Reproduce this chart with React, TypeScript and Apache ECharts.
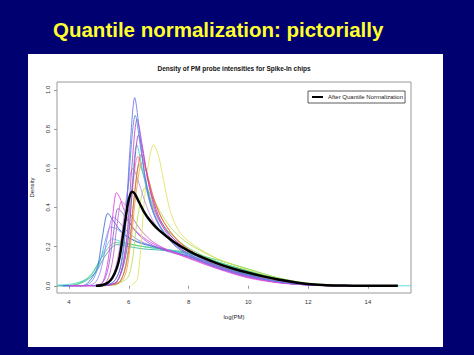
import React, { useEffect, useRef } from "react";
import * as echarts from "echarts";

const pageTitle = "Quantile normalization: pictorially";
const chartTitle = "Density of PM probe intensities for Spike-In chips";
const legendLabel = "After Quantile Normalization";
const xTicks = [4, 6, 8, 10, 12, 14];
const yTicks = [0, 0.2, 0.4, 0.6, 0.8, 1.0];

// After quantile normalization (black)
const afterQN = [[4.9,0],[5.1,0.003],[5.3,0.015],[5.45,0.04],[5.6,0.09],[5.7,0.15],[5.8,0.25],[5.9,0.35],[6.0,0.44],[6.11,0.48],[6.2,0.47],[6.35,0.425],[6.5,0.38],[6.7,0.335],[7.0,0.285],[7.5,0.225],[8.0,0.178],[8.5,0.142],[9.0,0.112],[9.5,0.087],[10,0.066],[10.5,0.048],[11,0.032],[11.5,0.019],[12,0.009],[12.5,0.004],[13,0.0015],[13.5,0.0005],[14,0],[15,0]];

// Raw chips (coloured)
const chipA = [[4.8,0],[5.4,0.01],[5.7,0.08],[5.9,0.35],[6.05,0.72],[6.2,0.96],[6.35,0.8],[6.5,0.6],[6.7,0.43],[7.0,0.31],[7.5,0.21],[8,0.155],[9,0.09],[10,0.05],[11,0.02],[12,0.005],[13,0.001],[14,0]];
const chipB = [[4.9,0],[5.5,0.02],[5.8,0.15],[6.0,0.55],[6.22,0.87],[6.4,0.7],[6.6,0.51],[6.8,0.39],[7.1,0.29],[7.5,0.215],[8,0.162],[9,0.1],[10,0.055],[11,0.022],[12,0.006],[13,0.001],[14,0]];
const chipC = [[5.0,0],[5.6,0.02],[5.9,0.2],[6.1,0.6],[6.28,0.85],[6.45,0.72],[6.65,0.53],[6.9,0.38],[7.2,0.285],[7.6,0.21],[8,0.163],[9,0.095],[10,0.05],[11,0.02],[12,0.005],[13,0],[14,0]];
const chipD = [[5.0,0],[5.6,0.02],[5.95,0.2],[6.15,0.55],[6.33,0.77],[6.5,0.66],[6.7,0.5],[7.0,0.355],[7.3,0.275],[7.7,0.21],[8,0.175],[9,0.1],[10,0.055],[11,0.022],[12,0.006],[13,0],[14,0]];
const chipE = [[5.1,0],[5.7,0.02],[6.0,0.18],[6.2,0.48],[6.42,0.67],[6.6,0.58],[6.8,0.46],[7.1,0.345],[7.5,0.255],[8,0.185],[9,0.11],[10,0.065],[11,0.028],[12,0.008],[13,0.001],[14,0]];
const chipF = [[5.2,0],[5.8,0.03],[6.05,0.2],[6.25,0.48],[6.45,0.63],[6.65,0.55],[6.85,0.44],[7.1,0.345],[7.5,0.255],[8,0.185],[9,0.11],[10,0.065],[11,0.027],[12,0.008],[13,0],[14,0]];
const chipG = [[5.0,0],[5.6,0.02],[5.9,0.2],[6.1,0.5],[6.27,0.72],[6.45,0.6],[6.65,0.455],[6.9,0.345],[7.3,0.255],[8,0.172],[9,0.1],[10,0.06],[11,0.025],[12,0.007],[13,0],[14,0]];
const chipH = [[5.1,0],[5.7,0.02],[6.0,0.2],[6.18,0.45],[6.35,0.62],[6.55,0.54],[6.75,0.435],[7.0,0.345],[7.4,0.265],[8,0.192],[9,0.12],[10,0.075],[11,0.035],[12,0.01],[13,0.001],[14,0]];
const chipI = [[5.0,0],[5.6,0.02],[5.92,0.2],[6.12,0.48],[6.3,0.66],[6.5,0.56],[6.7,0.445],[7.0,0.335],[7.4,0.255],[8,0.183],[9,0.105],[10,0.06],[11,0.025],[12,0.007],[13,0],[14,0]];
const chipJ = [[4.9,0],[5.4,0.03],[5.7,0.2],[5.95,0.48],[6.14,0.6],[6.35,0.52],[6.55,0.425],[6.8,0.335],[7.2,0.255],[8,0.163],[9,0.095],[10,0.05],[11,0.02],[12,0.005],[13,0],[14,0]];
const chipK = [[6.1,0],[6.3,0.04],[6.53,0.45],[6.7,0.66],[6.83,0.72],[7.0,0.66],[7.1,0.59],[7.37,0.39],[7.6,0.3],[7.8,0.255],[8.2,0.205],[9,0.135],[10,0.08],[11,0.035],[12,0.01],[13,0.001],[14,0]];
const chipL = [[5.5,0],[6.0,0.05],[6.3,0.35],[6.55,0.5],[6.8,0.45],[7.1,0.365],[7.5,0.28],[8,0.215],[9,0.135],[10,0.085],[11,0.04],[12,0.012],[13,0.002],[14,0]];
const chipM = [[4.0,0],[4.8,0],[5.09,0.01],[5.25,0.08],[5.37,0.2],[5.48,0.38],[5.59,0.475],[5.7,0.45],[5.85,0.385],[6.1,0.305],[6.5,0.245],[7,0.2],[7.5,0.17],[8,0.14],[9,0.085],[10,0.04],[11,0.015],[12,0.004],[13,0],[14,0]];
const chipN = [[4.0,0],[4.9,0],[5.25,0.02],[5.45,0.12],[5.6,0.3],[5.76,0.43],[5.9,0.41],[6.1,0.355],[6.4,0.285],[6.8,0.225],[7.3,0.183],[8,0.145],[9,0.09],[10,0.045],[11,0.017],[12,0.004],[13,0],[14,0]];
const chipO = [[4.0,0],[4.8,0],[5.15,0.02],[5.35,0.12],[5.5,0.28],[5.64,0.395],[5.8,0.37],[6.0,0.325],[6.3,0.265],[6.7,0.215],[7.2,0.18],[8,0.145],[9,0.09],[10,0.045],[11,0.017],[12,0.004],[13,0],[14,0]];
const chipP = [[3.8,0],[4.4,0],[4.6,0.01],[4.85,0.06],[4.98,0.11],[5.12,0.25],[5.3,0.37],[5.45,0.34],[5.65,0.295],[5.9,0.255],[6.3,0.222],[6.8,0.2],[7.5,0.172],[8,0.15],[9,0.09],[10,0.045],[11,0.017],[12,0.004],[13,0],[14,0]];
const chipQ = [[3.8,0],[4.6,0],[4.9,0.02],[5.1,0.1],[5.3,0.26],[5.48,0.35],[5.65,0.33],[5.9,0.285],[6.3,0.235],[6.8,0.202],[7.5,0.172],[8,0.15],[9,0.095],[10,0.05],[11,0.018],[12,0.004],[13,0],[14,0]];
const chipR = [[3.7,0],[4.5,0],[4.8,0.03],[5.05,0.13],[5.25,0.25],[5.4,0.3],[5.6,0.29],[5.9,0.255],[6.3,0.225],[6.9,0.2],[7.5,0.177],[8,0.155],[9,0.1],[10,0.055],[11,0.02],[12,0.005],[13,0],[14,0]];
const chipS = [[3.6,0],[3.8,0],[4.3,0.01],[4.7,0.05],[5.0,0.12],[5.3,0.19],[5.55,0.22],[5.9,0.215],[6.4,0.202],[7,0.19],[7.5,0.18],[8,0.17],[9,0.13],[10,0.085],[11,0.04],[12,0.012],[13,0.002],[14,0]];
const chipT = [[3.6,0.003],[4.2,0.012],[4.7,0.046],[5.0,0.12],[5.25,0.2],[5.45,0.24],[5.75,0.225],[6.3,0.205],[6.9,0.19],[7.5,0.18],[8,0.165],[9,0.12],[10,0.075],[11,0.035],[12,0.01],[13,0.002],[14,0],[15.44,0]];
const chipU = [[3.6,0],[4.0,0],[4.5,0.02],[4.9,0.07],[5.2,0.15],[5.6,0.21],[6.0,0.2],[6.5,0.188],[7.2,0.18],[8,0.165],[9,0.12],[10,0.075],[11,0.035],[12,0.01],[13,0.001],[14,0]];

const chips = [chipU, chipT, chipS, chipR, chipQ, chipP, chipO, chipN, chipM, chipL, chipK, chipJ, chipI, chipH, chipG, chipF, chipE, chipD, chipC, chipB, chipA];
const chipColors = ["#30b0a0", "#40d8d8", "#50d070", "#60a0f0", "#a080f0", "#3a6ad0", "#9060d8", "#c860c8", "#e040e0", "#b0e050", "#e0e060", "#c090e0", "#f080b0", "#60d060", "#40d0d0", "#f0a040", "#f06040", "#a040c0", "#d040d0", "#4a90d0", "#7070f0"];

const FONT = "Liberation Sans, Arial, Helvetica, sans-serif";

export default function App() {
  const ref = useRef<HTMLDivElement>(null);
  useEffect(() => {
    if (!ref.current) return;
    const chart = echarts.init(ref.current, undefined, { renderer: "svg" });
    const series: any[] = chips.map((d, i) => ({
      name: "chip" + (i + 1),
      type: "line",
      data: d,
      symbol: "none",
      smooth: 0.3,
      silent: true,
      lineStyle: { width: 1, color: chipColors[i], opacity: 0.85 },
      z: 2,
    }));
    series.push({
      name: legendLabel,
      type: "line",
      data: afterQN,
      symbol: "none",
      smooth: 0.3,
      silent: true,
      color: "#000",
      lineStyle: { width: 2.5, color: "#000" },
      z: 5,
    });
    chart.setOption({
      animation: false,
      backgroundColor: "transparent",
      textStyle: { fontFamily: FONT },
      graphic: [
        {
          type: "text",
          left: 53,
          top: 19,
          style: {
            text: pageTitle,
            fill: "#ffff2e",
            font: "bold 20.5px " + FONT,
          },
        },
        {
          type: "text",
          x: 234,
          y: 68,
          style: {
            text: chartTitle,
            fill: "#111",
            font: "bold 6.5px " + FONT,
            align: "center",
            verticalAlign: "middle",
          },
        },
      ],
      legend: {
        data: [legendLabel],
        left: 308,
        top: 91,
        padding: [3, 2, 3, 4],
        itemWidth: 11,
        itemHeight: 2,
        icon: "rect",
        borderColor: "#333",
        borderWidth: 0.8,
        borderRadius: 0,
        backgroundColor: "#fff",
        textStyle: { fontSize: 6, color: "#222", fontFamily: FONT },
        selectedMode: false,
      },
      grid: {
        left: 57,
        top: 82,
        width: 354,
        height: 211,
        show: true,
        borderColor: "#999",
        borderWidth: 1,
        backgroundColor: "transparent",
      },
      xAxis: {
        type: "value",
        min: 3.6,
        max: 15.44,
        name: "log(PM)",
        nameLocation: "middle",
        nameGap: 21,
        nameTextStyle: { fontSize: 6, color: "#222" },
        axisLine: { show: false },
        axisTick: { show: true, customValues: xTicks, length: 3, lineStyle: { color: "#999" } },
        axisLabel: { customValues: xTicks, fontSize: 6, color: "#333", margin: 6, formatter: (v: number) => String(v) },
        splitLine: { show: false },
      },
      yAxis: {
        type: "value",
        min: -0.037,
        max: 1.04,
        name: "Density",
        nameLocation: "middle",
        nameGap: 22,
        nameRotate: 90,
        nameTextStyle: { fontSize: 6, color: "#222" },
        axisLine: { show: false },
        axisTick: { show: true, customValues: yTicks, length: 3, lineStyle: { color: "#999" } },
        axisLabel: { customValues: yTicks, fontSize: 6, color: "#333", margin: 6, rotate: 90, formatter: (v: number) => v.toFixed(1) },
        splitLine: { show: false },
      },
      series,
    });
    return () => chart.dispose();
  }, []);
  return (
    <div style={{ position: "fixed", left: 0, top: 0, width: 474, height: 355, background: "#000070", overflow: "hidden" }}>
      <div style={{ position: "absolute", left: 28, top: 54, width: 415, height: 293, background: "#ffffff" }} />
      <div ref={ref} style={{ position: "absolute", left: 0, top: 0, width: 474, height: 355 }} />
    </div>
  );
}
